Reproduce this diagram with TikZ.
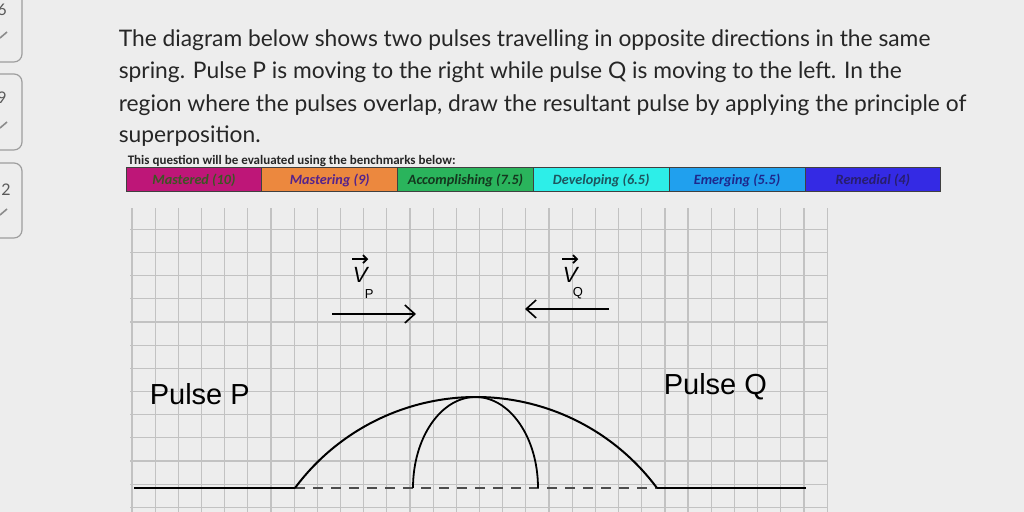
\documentclass[tikz,border=0pt]{standalone}
\usepackage{fontspec}
\setmainfont{Lato}
\newfontfamily\arialfont{Liberation Sans}
\newfontfamily\benchfont{Carlito}
\usepackage{tikz}
\usetikzlibrary{arrows.meta}
\definecolor{paper}{gray}{0.93}
\definecolor{gridgray}{gray}{0.76}
\definecolor{boxgray}{gray}{0.62}
\definecolor{mastered}{RGB}{190, 22, 120}
\definecolor{masteredtxt}{RGB}{60, 85, 35}
\definecolor{mastering}{RGB}{236, 136, 62}
\definecolor{masteringtxt}{RGB}{85, 35, 140}
\definecolor{accomplishing}{RGB}{42, 180, 92}
\definecolor{accomplishingtxt}{RGB}{20, 55, 30}
\definecolor{developing}{RGB}{45, 238, 232}
\definecolor{developingtxt}{RGB}{30, 85, 95}
\definecolor{emerging}{RGB}{32, 160, 238}
\definecolor{emergingtxt}{RGB}{30, 40, 140}
\definecolor{remedial}{RGB}{52, 42, 228}
\definecolor{remedialtxt}{RGB}{40, 30, 110}

\tikzset{
  gridline/.style={color=gridgray, line width=0.6pt},
  textline/.style={anchor=base west, inner sep=0, font=\fontsize{11.4}{13}\selectfont, text=black!85},
  benchcell/.style={draw=black!75, line width=0.5pt, minimum width=67.9pt, minimum height=12pt,
    inner sep=0, font=\benchfont\bfseries\itshape\fontsize{7.1}{8}\selectfont},
  pulselabel/.style={anchor=base west, inner sep=0, font=\arialfont\fontsize{14.5}{16}\selectfont},
  speedlabel/.style={anchor=base west, inner sep=0, font=\arialfont\itshape\fontsize{11}{12}\selectfont},
  speedindex/.style={anchor=base west, inner sep=0, font=\arialfont\fontsize{6.5}{7}\selectfont},
  sidebox/.style={draw=boxgray, rounded corners=4pt, line width=0.6pt},
}

\begin{document}
\begin{tikzpicture}[x=0.5pt, y=0.5pt, thick]
  \useasboundingbox (0, 0) rectangle (1024, 512);
  \clip (0, 0) rectangle (1024, 512);
  \fill [paper] (0, 0) rectangle (1024, 512);

  % answered questions on the left edge
  \draw [sidebox] (-30, 450) rectangle (22, 520);
  \draw [sidebox] (-30, 362) rectangle (22, 438);
  \draw [sidebox] (-30, 274) rectangle (22, 349);
  \node [text=black!65, font=\fontsize{8}{9}\selectfont] (num6) at (2, 502) {6};
  \node [text=black!65, font=\fontsize{8}{9}\selectfont] (num9) at (2, 414) {9};
  \node [text=black!65, font=\fontsize{8}{9}\selectfont] (num2) at (6, 322) {2};
  \foreach \y in {474, 384, 297} {
    \draw [color=black!45] (0, \y) -- +(7, 6);
  }

  % question text
  \node [textline] (line1) at (118, 465)
  {The diagram below shows two pulses travelling in opposite directions in the same};
  \node [textline] (line2) at (118, 433)
  {spring. Pulse P is moving to the right while pulse Q is moving to the left. In the};
  \node [textline] (line3) at (118, 400)
  {region where the pulses overlap, draw the resultant pulse by applying the principle of};
  \node [textline] (line4) at (118, 369) {superposition.};

  % benchmarks
  \node [anchor=base west, inner sep=0, font=\benchfont\bfseries\fontsize{6.5}{7}\selectfont,
    text=black!85] (benchnote) at (127, 347)
  {This question will be evaluated using the benchmarks below:};
  \foreach \lbl/\fillc/\txtc [count=\i from 0] in
    {Mastered (10)/mastered/masteredtxt, Mastering (9)/mastering/masteringtxt,
     Accomplishing (7.5)/accomplishing/accomplishingtxt, Developing (6.5)/developing/developingtxt,
     Emerging (5.5)/emerging/emergingtxt, Remedial (4)/remedial/remedialtxt} {
    \node [benchcell, fill=\fillc, text=\txtc] (bench\i) at ({193.9 + 135.8*\i}, 332) {\lbl};
  }

  % squared paper
  \foreach \k in {0, ..., 30} {
    \draw [gridline] ({132 + 23.17*\k}, 0) -- +(0, 304);
  }
  \foreach \k in {0, ..., 12} {
    \draw [gridline] (130, {282.7 - 23.17*\k}) -- +(698, 0);
  }

  % velocities
  \node [speedlabel] (vP) at (352, 229) {V};
  \node [speedindex] (vPidx) at (364, 213) {P};
  \node [speedlabel] (vQ) at (562, 229) {V};
  \node [speedindex] (vQidx) at (572, 215) {Q};
  \draw [line width=0.9pt, -{Straight Barb[length=2pt, width=4pt]}]
    ([yshift=4pt]vP.north west) -- ([yshift=4pt]vP.north east);
  \draw [line width=0.9pt, -{Straight Barb[length=2pt, width=4pt]}]
    ([yshift=4pt]vQ.north west) -- ([yshift=4pt]vQ.north east);
  \coordinate (pstart) at (332, 198);
  \coordinate (pend) at (416, 198);
  \coordinate (qstart) at (609, 203);
  \coordinate (qend) at (525, 203);
  \draw [-{Straight Barb[length=5pt, width=9pt]}] (pstart) -- (pend);
  \draw [-{Straight Barb[length=5pt, width=9pt]}] (qstart) -- (qend);

  % the two pulses on the spring
  \node [pulselabel] (labelP) at (149, 107) {Pulse P};
  \node [pulselabel] (labelQ) at (663, 117) {Pulse Q};
  \draw [line width=1pt] (134, 24) -- (295, 24);
  \draw [line width=1pt] (657, 24) -- (806, 24);
  \draw [color=black!70, line width=0.8pt, dash pattern=on 5pt off 4pt] (295, 24) -- (657, 24);
  \draw [line width=1pt] (295, 24) arc (143.38:36.62:225.5);
  \draw [line width=0.9pt] (413, 24) arc (180:0:62.5 and 91);
\end{tikzpicture}
\end{document}
